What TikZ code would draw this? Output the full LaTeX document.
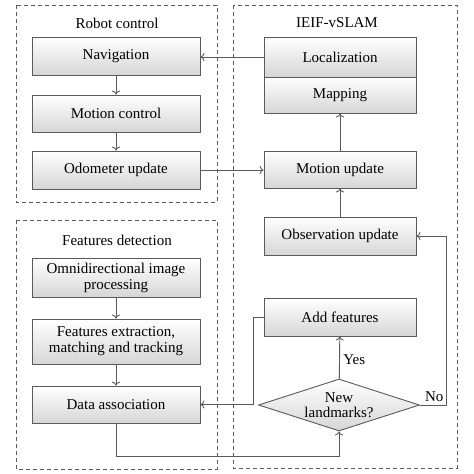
\documentclass[tikz,border=0pt]{standalone}
\usepackage{fontspec}
\setmainfont{Liberation Serif}
\usepackage{tikz}
\usetikzlibrary{shapes.geometric,arrows.meta,positioning,calc}
\definecolor{lineg}{HTML}{5A5A5A}
\definecolor{boxbot}{HTML}{D6D6D6}

\begin{document}
\begin{tikzpicture}[x=1pt,y=-1pt,
  font=\fontsize{15}{16}\selectfont,
  box/.style={draw=lineg,line width=0.9pt,top color=white,bottom color=boxbot,
              minimum width=168,align=center,inner sep=1pt},
  sbox/.style={box,minimum width=152},
  dec/.style={diamond,draw=lineg,line width=0.9pt,top color=white,bottom color=boxbot,
              minimum width=161,minimum height=52,inner sep=0pt,shape aspect=3,
              align=center,font=\fontsize{15}{15}\selectfont},
  grp/.style={draw=lineg,dashed,dash pattern=on 4pt off 3pt,line width=0.8pt},
  arr/.style={-{To[length=4pt,width=8pt]},draw=lineg,line width=0.9pt}
]
\useasboundingbox (0,0) rectangle (474,474);
% group frames
\draw[grp] (16,5) rectangle (217,202);
\draw[grp] (16,220) rectangle (217,469);
\draw[grp] (233,5) rectangle (457,468);
\node (trc) at (117,23)  {Robot control};
\node (tfd) at (117,240) {Features detection};
\node (tsl) at (337,23)  {IEIF-vSLAM};
% robot control
\node[box,minimum height=38] (nav)   at (116,56)    {Navigation};
\node[box,minimum height=37] (mctl)  at (116,113.5) {Motion control};
\node[box,minimum height=38] (odom)  at (116,170)   {Odometer update};
% features detection
\node[box,minimum height=39] (omni)  at (116,277.5) {Omnidirectional image\\processing};
\node[box,minimum height=45] (extr)  at (116,341.5) {Features extraction,\\matching and tracking};
\node[box,minimum height=37] (assoc) at (116,404.5) {Data association};
% slam
\node[sbox,minimum height=40] (loc)  at (340,57)    {Localization};
\node[sbox,minimum height=36] (map)  at (340,95)    {Mapping};
\node[sbox,minimum height=37] (mupd) at (340,169.5) {Motion update};
\node[sbox,minimum height=38] (obs)  at (340,236)   {Observation update};
\node[sbox,minimum height=38] (addf) at (340,317)   {Add features};
\node[dec] (newlm) at (339,405) {New\\landmarks?};

\draw[arr] (nav) -- (mctl);
\draw[arr] (mctl) -- (odom);
\draw[arr] (omni) -- (extr);
\draw[arr] (extr) -- (assoc);
\draw[arr] (loc.west) -- (loc.west -| nav.east);
\draw[arr] (odom.east) -- (odom.east -| mupd.west);
\draw[arr] (mupd) -- (map);
\draw[arr] (obs) -- (mupd);
\draw[arr] (newlm) -- node[right,pos=0.45]{Yes} (addf);
\draw[arr] (newlm.east) -- node[above,pos=0.55]{No} ++(26,0) |- (obs.east);
\draw[arr] (addf.west) -- ++(-10,0) |- (assoc.east);
\draw[arr] (assoc.south) -- ++(0,33) -| (newlm.south);
\end{tikzpicture}
\end{document}
